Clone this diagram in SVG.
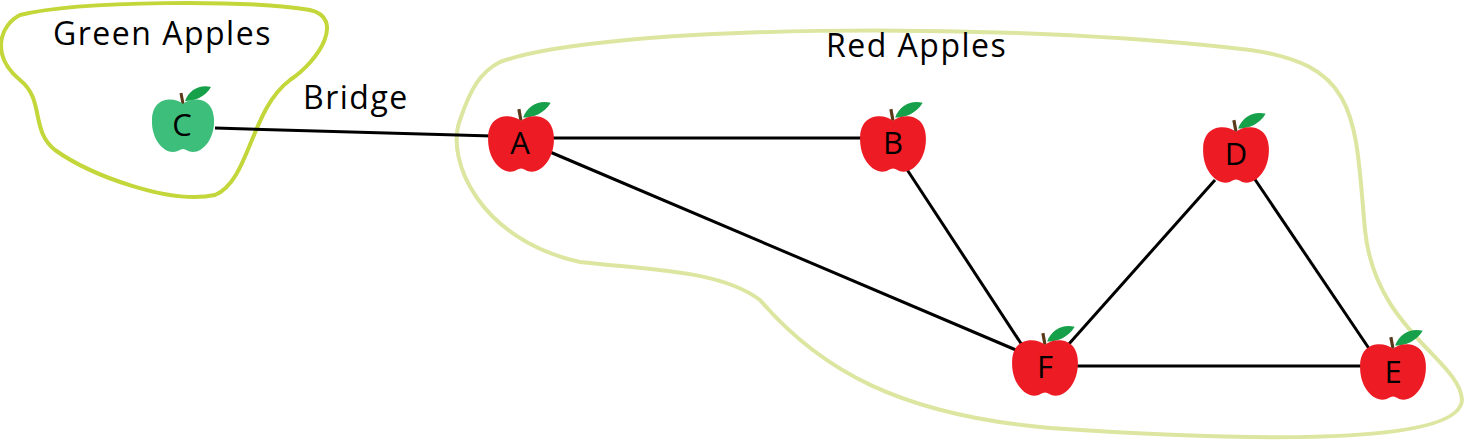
<svg xmlns="http://www.w3.org/2000/svg" xmlns:xlink="http://www.w3.org/1999/xlink" width="1468" height="445" viewBox="0 0 1468 445">
<style>
.lbl{font-family:"Open Sans","Noto Sans",sans-serif;font-size:32px;letter-spacing:1.5px;fill:#000}
.nl{font-family:"Open Sans","Noto Sans",sans-serif;font-size:31px;fill:#000;text-anchor:middle}
.e{stroke:#000;stroke-width:3;fill:none}
.blob{fill:none;stroke-width:4}
</style>
<defs>
<g id="apple">
<path d="M-2,-31 L0,-20" stroke="#5a3a1a" stroke-width="3"/>
<path d="M2,-23 C6,-35 18,-40 28,-37 C22,-27 12,-23 2,-23Z" fill="#17A04A"/>
<path d="M0,-20 C-8,-27 -30,-28 -31,-5 C-32,15 -20,28 -10,28 C-5,28 -3,25 0,25 C3,25 5,28 10,28 C20,28 32,15 31,-5 C30,-28 8,-27 0,-20Z"/>
</g>
</defs>
<path class="blob" stroke="#C3D63A" d="M20,15 C80,0 250,0 310,10 C345,18 320,60 290,80 C250,110 250,180 215,195 C170,205 90,175 55,150 C30,130 45,100 20,80 C-10,55 0,25 20,15Z"/>
<path class="blob" stroke="#DDE6A0" d="M500,62 C600,25 1000,20 1250,50 C1360,65 1355,120 1365,230 C1375,330 1460,360 1462,400 C1460,440 1300,445 1050,428 C900,415 820,370 760,300 C720,270 650,270 580,262 C480,240 445,160 460,120 C470,90 480,72 500,62Z"/>
<text class="lbl" x="53" y="45">Green Apples</text>
<text class="lbl" x="826" y="57">Red Apples</text>
<text class="lbl" x="303" y="109">Bridge</text>
<g id="connectors">
<line class="e" x1="215" y1="128" x2="492" y2="136"/>
<line class="e" x1="550" y1="138" x2="866" y2="138"/>
<line class="e" x1="550" y1="152" x2="1016" y2="350"/>
<line class="e" x1="906" y1="168" x2="1022" y2="345"/>
<line class="e" x1="1215" y1="180" x2="1068" y2="345"/>
<line class="e" x1="1254" y1="178" x2="1370" y2="350"/>
<line class="e" x1="1075" y1="366" x2="1364" y2="366"/>
</g>
<g id="C"><use xlink:href="#apple" transform="translate(183,124)" fill="#3DBE7A"/><text class="nl" x="182" y="136">C</text></g>
<g id="A"><use xlink:href="#apple" transform="translate(521,142) scale(1.06)" fill="#ED1C24"/><text class="nl" x="520" y="154">A</text></g>
<g id="B"><use xlink:href="#apple" transform="translate(893,142) scale(1.06)" fill="#ED1C24"/><text class="nl" x="893" y="154">B</text></g>
<g id="D"><use xlink:href="#apple" transform="translate(1236,153) scale(1.06)" fill="#ED1C24"/><text class="nl" x="1236" y="165">D</text></g>
<g id="F"><use xlink:href="#apple" transform="translate(1045,366) scale(1.06)" fill="#ED1C24"/><text class="nl" x="1045" y="378">F</text></g>
<g id="E"><use xlink:href="#apple" transform="translate(1393,370) scale(1.06)" fill="#ED1C24"/><text class="nl" x="1393" y="383">E</text></g>
</svg>
